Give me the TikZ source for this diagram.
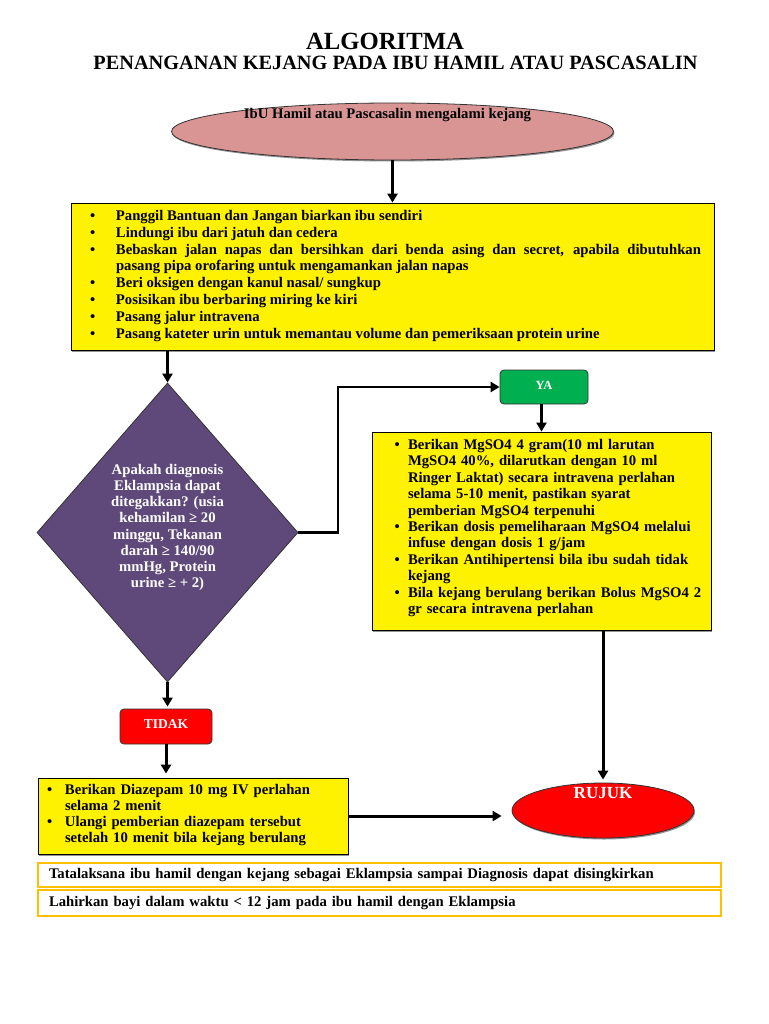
\documentclass[tikz,border=0pt]{standalone}
\usepackage{fontspec}
\setmainfont{Liberation Serif}
\usetikzlibrary{arrows.meta,shapes.geometric,shadows,calc}
\definecolor{pinkell}{RGB}{217,149,148}
\definecolor{purpleD}{RGB}{95,73,122}
\definecolor{greenY}{RGB}{0,176,80}
\definecolor{redT}{RGB}{255,0,0}
\definecolor{orangeB}{RGB}{255,192,0}
\newcommand\flbul[2]{\par\noindent\hangindent=#1\hangafter=1\makebox[#1][l]{\hspace{#2}\textbullet}\ignorespaces}
\newcommand\flpad[1]{\par\nointerlineskip\vbox to #1{}}
\tikzset{
  body/.style={font=\fontsize{14.7}{16.8}\selectfont\bfseries},
  shad/.style={drop shadow={shadow xshift=1pt,shadow yshift=-1.5pt,fill=black!70,opacity=0.6}},
  ybox/.style={rectangle,draw=black,line width=0.8pt,fill=yellow,inner sep=0pt,shad},
  obox/.style={rectangle,draw=orangeB,line width=2pt,fill=white,inner sep=0pt,align=left,
    font=\fontsize{14.7}{16.8}\selectfont\bfseries},
  lbox/.style={rectangle,rounded corners=4pt,draw=black!80,line width=0.8pt,text=white,inner sep=0pt},
  arr/.style={line width=3pt,-{Triangle[width=10pt,length=9pt]}},
}
\begin{document}
\begin{tikzpicture}[x=1pt,y=-1pt]
\useasboundingbox[fill=white] (0,0) rectangle (768,1024);

\node[font=\fontsize{24.7}{28}\selectfont\bfseries,anchor=base,inner sep=0pt] (title) at (385,50) {ALGORITMA};
\node[font=\fontsize{20.3}{24}\selectfont\bfseries,anchor=base,inner sep=0pt] (subtitle) at (395.5,69.7) {PENANGANAN KEJANG PADA IBU HAMIL ATAU PASCASALIN};

\node[ellipse,draw=black!80,line width=0.8pt,fill=pinkell,minimum width=442pt,minimum height=57pt,inner sep=0pt,shad,
  label={[anchor=center,yshift=-12pt,xshift=-5pt,body]north:IbU Hamil atau Pascasalin mengalami kejang}] (start) at (392.5,131.5) {};

\node[ybox,body,minimum width=643pt,minimum height=147pt,text width=617pt,align=justify,
  execute at begin node={\tolerance=9999}] (box1) at (392.5,276.5) {%
\flbul{32pt}{6pt}Panggil Bantuan dan Jangan biarkan ibu sendiri
\flbul{32pt}{6pt}Lindungi ibu dari jatuh dan cedera
\flbul{32pt}{6pt}Bebaskan jalan napas dan bersihkan dari benda asing dan secret, apabila dibutuhkan\linebreak pasang pipa orofaring untuk mengamankan jalan napas
\flbul{32pt}{6pt}Beri oksigen dengan kanul nasal/ sungkup
\flbul{32pt}{6pt}Posisikan ibu berbaring miring ke kiri
\flbul{32pt}{6pt}Pasang jalur intravena
\flbul{32pt}{6pt}Pasang kateter urin untuk memantau volume dan pemeriksaan protein urine\flpad{8pt}};

\node[diamond,draw=black!80,line width=0.8pt,fill=purpleD,minimum width=261pt,minimum height=299pt,inner sep=0pt,
  label={[anchor=center,yshift=5pt,text=white,align=center,font=\fontsize{14.7}{16.2}\selectfont\bfseries]center:{Apakah diagnosis\\Eklampsia dapat\\ditegakkan? (usia\\kehamilan ≥ 20\\minggu, Tekanan\\darah ≥ 140/90\\mmHg, Protein\\urine ≥ + 2)}}] (dia) at (167.5,532.5) {};

\node[lbox,fill=greenY,minimum width=88pt,minimum height=34pt,font=\fontsize{12.5}{14}\selectfont\bfseries] (ya) at (544,387) {\raisebox{3pt}{YA}};

\node[ybox,minimum width=339pt,minimum height=198pt,text width=328pt,align=left,
  font=\fontsize{14.7}{16.4}\selectfont\bfseries] (box2) at (541.5,531) {%
\flbul{30.5pt}{17pt}Berikan MgSO4 4 gram(10 ml larutan\newline MgSO4 40\%, dilarutkan dengan 10 ml\newline Ringer Laktat) secara intravena perlahan\newline selama 5-10 menit, pastikan syarat\newline pemberian MgSO4 terpenuhi
\flbul{30.5pt}{17pt}Berikan dosis pemeliharaan MgSO4 melalui\newline infuse dengan dosis 1 g/jam
\flbul{30.5pt}{17pt}Berikan Antihipertensi bila ibu sudah tidak\newline kejang
\flbul{30.5pt}{17pt}Bila kejang berulang berikan Bolus MgSO4 2\newline gr secara intravena perlahan\flpad{12pt}};

\node[lbox,fill=redT,minimum width=92pt,minimum height=35pt,font=\fontsize{13.5}{15}\selectfont\bfseries] (tidak) at (166,726.5) {\raisebox{4pt}{TIDAK}};

\node[ybox,minimum width=310pt,minimum height=76pt,text width=300pt,align=left,
  font=\fontsize{14.7}{16}\selectfont\bfseries] (box3) at (193,816) {%
\flbul{22pt}{4pt}Berikan Diazepam 10 mg IV perlahan\newline selama 2 menit
\flbul{22pt}{4pt}Ulangi pemberian diazepam tersebut\newline setelah 10 menit bila kejang berulang\flpad{8pt}};

\node[ellipse,draw=black!80,line width=0.8pt,fill=redT,minimum width=182pt,minimum height=55pt,inner sep=0pt,shad,
  label={[anchor=center,yshift=-10pt,text=white,font=\fontsize{17}{19}\selectfont\bfseries]north:RUJUK}] (rujuk) at (603,810.5) {};

\node[obox,minimum width=683pt,minimum height=24pt,text width=661pt] (noteA) at (379.5,875) {\raisebox{-1.5pt}{Tatalaksana ibu hamil dengan kejang sebagai Eklampsia sampai Diagnosis dapat disingkirkan}};
\node[obox,minimum width=683pt,minimum height=26pt,text width=661pt] (noteB) at (379.5,903) {Lahirkan bayi dalam waktu < 12 jam pada ibu hamil dengan Eklampsia};

\coordinate (cx) at (338,0);
\draw[arr] (start.south) -- (box1.north);
\draw[arr] (dia.north |- box1.south) -- (dia.north);
\draw[line width=2.5pt,-{Triangle[width=10pt,length=9pt]}] (dia.east) -| (cx |- ya.west) -- (ya.west);
\draw[arr] (ya.south -| box2.north) -- (box2.north);
\draw[arr,shorten >=3pt] (rujuk.north |- box2.south) -- (rujuk.north);
\draw[arr,shorten >=2pt] (dia.south) -- (dia.south |- tidak.north);
\draw[arr,shorten >=4pt] (tidak.south) -- (tidak.south |- box3.north);
\draw[arr,shorten >=10pt] (box3.east) -- (box3.east -| rujuk.west);
\end{tikzpicture}
\end{document}
